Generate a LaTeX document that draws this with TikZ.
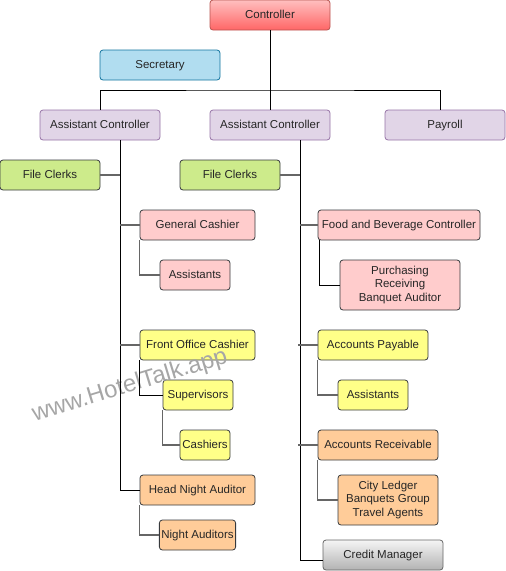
\documentclass[tikz,border=0pt]{standalone}
\usepackage{fontspec}
\setmainfont{Liberation Sans}
\usetikzlibrary{calc}
\definecolor{ctrlred}{RGB}{184, 84, 80}
\definecolor{secblue}{RGB}{177, 221, 240}
\definecolor{secline}{RGB}{16, 115, 158}
\definecolor{acpurple}{RGB}{225, 213, 231}
\definecolor{acline}{RGB}{150, 115, 166}
\definecolor{boxline}{RGB}{54, 57, 61}
\definecolor{clerkgreen}{RGB}{205, 235, 139}
\definecolor{cashpink}{RGB}{255, 204, 204}
\definecolor{cashyellow}{RGB}{255, 255, 136}
\definecolor{auditorange}{RGB}{255, 204, 153}

\begin{document}
\begin{tikzpicture}[x=1pt,y=-1pt]

\tikzstyle{unit} = [draw, rounded corners=3, line width=0.8, inner sep=2,
minimum height=30, text height=8.5, text depth=2.5, text=black!85,
font=\fontsize{11.5}{13.5}\selectfont, align=center]
\tikzstyle{multi} = [text height=, text depth=, minimum height=50]
\tikzstyle{red-b} = [unit, draw=ctrlred, top color=red!25, bottom color=red!60!white]
\tikzstyle{blue-b} = [unit, draw=secline, fill=secblue]
\tikzstyle{purple-b} = [unit, draw=acline, fill=acpurple]
\tikzstyle{green-b} = [unit, draw=boxline, fill=clerkgreen]
\tikzstyle{pink-b} = [unit, draw=boxline, fill=cashpink]
\tikzstyle{yellow-b} = [unit, draw=boxline, fill=cashyellow]
\tikzstyle{orange-b} = [unit, draw=boxline, fill=auditorange]
\tikzstyle{gray-b} = [unit, draw=black!60, top color=black!4, bottom color=black!30]
\tikzstyle{trunk} = [draw=black, line width=0.9]
\tikzstyle{branch} = [draw=black!60, line width=1.5]

\useasboundingbox (0,0) rectangle (506,571);

% top levels
\node [red-b, minimum width=120] (ctrl) at (270,15) {Controller};
\node [blue-b, minimum width=120] (sec) at (160,65) {Secretary};
\node [purple-b, minimum width=120] (ac1) at (100,125) {Assistant Controller};
\node [purple-b, minimum width=120] (ac2) at (270,125) {Assistant Controller};
\node [purple-b, minimum width=120] (pay) at (445,125) {Payroll};

% left column
\node [green-b, minimum width=100] (fc1) at (50,175) {File Clerks};
\node [pink-b, minimum width=115] (gc) at (197.5,225) {General Cashier};
\node [pink-b, minimum width=70] (asst1) at (195,275) {Assistants};
\node [yellow-b, minimum width=115] (foc) at (197.5,345) {Front Office Cashier};
\node [yellow-b, minimum width=70] (sup) at (198,395) {Supervisors};
\node [yellow-b, minimum width=50] (cash) at (205,445) {Cashiers};
\node [orange-b, minimum width=115] (hna) at (197.5,490) {Head Night Auditor};
\node [orange-b, minimum width=75] (na) at (197.5,535) {Night Auditors};

% right column
\node [green-b, minimum width=100] (fc2) at (230,175) {File Clerks};
\node [pink-b, minimum width=162] (fbc) at (399,225) {Food and Beverage Controller};
\node [pink-b, multi, minimum width=120] (pur) at (400,285) {Purchasing\\Receiving\\Banquet Auditor};
\node [yellow-b, minimum width=110] (ap) at (373,345) {Accounts Payable};
\node [yellow-b, minimum width=70] (asst2) at (373,395) {Assistants};
\node [orange-b, minimum width=120] (ar) at (378,445) {Accounts Receivable};
\node [orange-b, multi, minimum width=100] (cl) at (388,500) {City Ledger\\Banquets Group\\Travel Agents};
\node [gray-b, minimum width=120] (cm) at (383,555) {Credit Manager};

% watermark
\node [text=black!35, rotate=17, font=\fontsize{24}{26}\selectfont] (mark) at (130,386) {www.HotelTalk.app};

% connectors
\coordinate (hub) at (270,90);
\coordinate (t1) at (120,140);
\coordinate (t2) at (300,140);
\draw[trunk] (ctrl) -- (ac2);
\draw[trunk] (ac1.north) |- (hub) -| ([xshift=-5]pay.north);

\draw[trunk] (t1) |- (hna.west);
\draw[branch] (fc1.east) -- (fc1.east -| t1);
\draw[branch] (gc.west) -- (gc.west -| t1);
\draw[branch] (foc.west) -- (foc.west -| t1);
\draw[branch] (gc.south west) |- (asst1.west);
\draw[trunk] (foc.south west) |- (sup.west);
\draw[branch] (sup.south west) |- (cash.west);
\draw[branch] (hna.south west) |- (na.west);

\draw[trunk] (t2) |- ([yshift=-5]cm.west);
\draw[branch] (fc2.east) -- (fc2.east -| t2);
\draw[branch] (fbc.west) -- (fbc.west -| t2);
\draw[branch] (ap.west) -- ([xshift=-2]ap.west -| t2);
\draw[branch] (ar.west) -- ([xshift=-2]ar.west -| t2);
\draw[trunk] ([xshift=2]fbc.south west) |- (pur.west);
\draw[branch] (ap.south west) |- (asst2.west);
\draw[branch] (ar.south west) |- (cl.west);

\end{tikzpicture}
\end{document}
